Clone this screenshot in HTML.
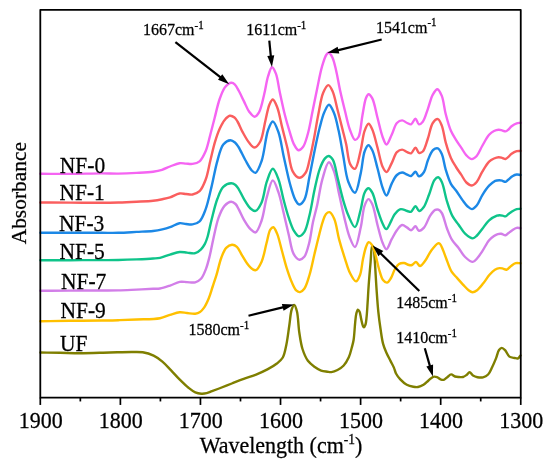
<!DOCTYPE html>
<html><head><meta charset="utf-8"><style>
html,body{margin:0;padding:0;background:#fff;}
svg{display:block;}
text{font-family:"Liberation Serif","Times New Roman",serif;fill:#000;stroke:#000;stroke-width:0.25px;}
.sup{font-size:11px;}
</style></head><body>
<svg width="550" height="464" viewBox="0 0 550 464">
<g fill="none" stroke-width="2.4" stroke-linejoin="round" stroke-linecap="round">
<path d="M40.5,352.5 C47.00,352.60 53.46,352.67 60.00,352.80 C66.62,352.93 72.66,353.31 80.00,353.30 C88.99,353.29 100.80,352.73 110.00,352.50 C117.85,352.31 125.78,351.99 131.80,352.00 C136.06,352.01 139.11,351.70 142.70,352.30 C146.38,352.91 150.27,354.10 153.60,355.70 C156.81,357.24 159.59,359.27 162.40,361.60 C165.44,364.11 168.22,367.41 171.10,370.40 C174.02,373.44 176.85,376.76 179.80,379.70 C182.65,382.54 185.69,385.57 188.50,387.80 C190.83,389.66 193.01,391.42 195.30,392.40 C197.28,393.25 199.34,393.58 201.30,393.70 C203.14,393.81 204.94,393.61 206.70,393.20 C208.50,392.78 210.10,391.92 212.00,391.20 C214.19,390.37 216.40,389.55 219.10,388.50 C222.73,387.10 227.63,385.13 231.80,383.50 C235.83,381.93 239.73,380.36 243.70,378.90 C247.63,377.46 251.59,376.36 255.50,374.80 C259.50,373.20 263.72,371.37 267.40,369.40 C270.81,367.58 274.21,365.65 276.90,363.50 C279.23,361.64 281.28,360.13 282.80,357.50 C284.72,354.17 285.38,349.28 286.40,344.50 C287.62,338.80 288.38,331.56 289.30,325.50 C290.14,319.94 290.47,313.12 291.70,309.50 C292.40,307.46 293.39,304.96 294.20,305.00 C295.13,305.05 296.16,308.51 296.90,311.30 C298.20,316.22 298.29,325.89 299.30,332.50 C300.20,338.36 300.91,344.04 302.50,349.00 C303.90,353.35 305.60,357.67 307.90,360.80 C309.84,363.44 312.46,365.31 314.80,367.00 C316.87,368.49 318.94,369.82 321.10,370.60 C323.11,371.33 325.44,371.44 327.30,371.70 C328.80,371.91 329.92,372.27 331.40,372.10 C333.25,371.88 335.53,371.02 337.50,370.00 C339.64,368.88 341.89,367.44 343.70,365.50 C345.73,363.32 347.45,360.28 348.80,357.30 C350.22,354.17 351.06,350.20 351.90,347.10 C352.60,344.53 353.12,342.92 353.60,340.00 C354.35,335.45 354.67,327.14 355.20,322.30 C355.57,318.92 355.71,316.01 356.30,313.70 C356.72,312.05 357.27,309.70 357.90,309.60 C358.38,309.53 359.04,310.65 359.50,311.60 C360.29,313.25 360.63,316.69 361.20,319.10 C361.73,321.35 362.17,324.20 362.80,325.60 C363.14,326.36 363.51,327.21 363.90,327.20 C364.40,327.18 365.08,325.68 365.50,324.50 C366.15,322.65 366.28,319.82 366.60,316.90 C367.03,312.95 367.27,307.85 367.60,302.90 C367.97,297.30 368.24,291.34 368.70,285.00 C369.22,277.81 369.97,269.02 370.60,262.00 C371.13,256.07 371.18,245.87 372.20,245.60 C372.59,245.50 373.23,246.60 373.60,247.60 C374.36,249.66 374.25,253.58 374.60,258.00 C375.21,265.74 375.92,280.38 376.60,290.00 C377.16,297.91 377.60,304.82 378.30,311.60 C378.93,317.67 379.67,323.26 380.50,328.80 C381.28,334.01 381.94,339.62 383.10,343.90 C383.99,347.22 385.07,349.67 386.30,352.50 C387.56,355.40 389.26,358.44 390.60,361.10 C391.77,363.42 392.98,365.46 393.90,367.60 C394.75,369.59 395.00,371.60 396.00,373.50 C397.08,375.55 398.59,377.57 400.30,379.40 C402.14,381.36 404.50,383.56 406.80,384.80 C408.86,385.92 411.29,386.45 413.30,386.80 C414.97,387.09 416.40,387.27 418.00,387.00 C419.79,386.69 421.79,385.84 423.50,384.80 C425.30,383.71 426.84,381.86 428.50,380.50 C430.08,379.20 431.62,377.28 433.20,376.80 C434.46,376.42 435.81,376.70 437.00,377.10 C438.24,377.51 439.30,378.86 440.50,379.30 C441.58,379.70 442.74,380.06 443.80,379.80 C445.01,379.50 446.10,378.08 447.30,377.20 C448.56,376.28 449.88,374.48 451.20,374.40 C452.45,374.33 453.67,376.07 455.00,376.50 C456.30,376.92 457.75,376.92 459.10,377.00 C460.41,377.08 461.78,377.33 463.00,377.00 C464.24,376.67 465.41,375.79 466.50,375.00 C467.61,374.20 468.55,372.18 469.60,372.20 C470.72,372.22 471.69,374.67 473.00,375.50 C474.32,376.34 475.90,376.89 477.50,377.20 C479.21,377.53 481.26,377.73 483.00,377.30 C484.79,376.86 486.67,375.92 488.10,374.50 C489.78,372.84 490.75,370.02 492.00,367.50 C493.39,364.70 494.81,361.39 496.00,358.40 C497.13,355.56 497.70,351.77 499.00,350.00 C499.82,348.89 500.82,347.92 501.80,347.90 C502.85,347.88 504.03,349.11 505.10,350.20 C506.59,351.71 507.62,355.32 509.40,356.60 C510.89,357.67 513.03,357.72 514.60,358.00 C515.87,358.22 517.13,358.71 518.10,358.30 C519.11,357.88 519.70,356.37 520.50,355.40" stroke="#7f7f00"/>
<path d="M40.5,321.3 C50.33,321.13 59.98,320.93 70.00,320.80 C80.40,320.66 92.92,320.62 101.80,320.50 C108.19,320.41 112.66,320.36 118.30,320.20 C124.24,320.03 130.13,319.80 136.60,319.50 C143.92,319.16 153.89,319.36 160.00,318.20 C164.09,317.42 166.68,315.89 170.00,314.90 C173.24,313.93 176.67,312.55 179.70,312.30 C182.29,312.08 184.50,312.77 187.00,313.00 C189.65,313.24 192.86,314.00 195.20,313.70 C197.04,313.46 198.58,312.92 200.00,312.00 C201.50,311.03 202.65,309.67 203.90,307.90 C205.63,305.44 207.37,301.64 208.80,298.20 C210.33,294.53 211.41,290.39 212.70,286.50 C213.98,282.63 215.20,279.17 216.50,274.90 C218.08,269.70 219.52,262.39 221.40,257.50 C222.85,253.72 224.10,249.94 226.20,247.80 C227.83,246.14 230.13,244.88 232.00,244.80 C233.68,244.72 235.44,245.55 236.90,246.80 C238.88,248.49 240.19,252.32 241.90,255.10 C243.65,257.95 245.36,261.22 247.30,263.70 C249.00,265.87 251.02,268.29 252.70,269.30 C253.78,269.95 254.75,270.58 255.80,270.20 C257.68,269.53 259.98,265.24 261.60,261.70 C263.81,256.88 264.95,248.97 266.50,243.30 C267.83,238.42 268.62,232.30 270.30,229.70 C271.18,228.33 272.33,227.03 273.30,227.20 C274.63,227.43 275.92,230.85 277.10,233.60 C278.94,237.89 280.38,245.20 282.00,251.00 C283.62,256.80 285.08,262.99 286.80,268.40 C288.34,273.24 289.90,278.03 291.70,282.00 C293.19,285.29 294.72,289.13 296.50,290.70 C297.60,291.67 298.82,292.26 300.00,292.10 C301.41,291.90 303.01,290.54 304.30,288.80 C306.43,285.93 307.92,280.16 309.50,275.00 C311.43,268.68 312.91,260.49 314.60,253.50 C316.21,246.84 317.92,239.72 319.40,234.00 C320.57,229.48 321.47,225.47 322.70,221.90 C323.71,218.95 324.51,215.59 326.00,214.00 C327.02,212.91 328.44,211.90 329.60,212.20 C331.26,212.63 332.95,215.96 334.30,219.00 C336.45,223.84 337.30,232.71 339.10,239.40 C340.87,245.98 343.05,252.86 345.00,258.80 C346.68,263.92 347.92,269.01 350.00,273.00 C351.72,276.31 354.24,281.45 356.00,281.40 C357.51,281.35 358.93,277.74 360.00,275.00 C361.57,270.98 361.92,263.94 363.00,259.00 C363.94,254.70 364.82,250.04 366.00,247.00 C366.79,244.98 367.53,242.41 368.60,242.20 C369.57,242.01 371.04,243.66 372.00,245.00 C373.34,246.87 374.02,249.84 375.00,253.00 C376.37,257.39 377.53,264.20 379.00,269.00 C380.24,273.04 381.21,277.74 383.00,280.00 C384.15,281.44 385.74,282.78 387.00,282.60 C388.43,282.40 389.79,279.90 391.00,278.00 C392.54,275.59 393.49,271.48 395.00,269.00 C396.22,267.00 397.38,264.98 399.00,264.00 C400.44,263.12 402.36,262.85 404.00,263.00 C405.69,263.16 407.52,264.72 409.00,265.00 C410.10,265.21 410.99,265.34 412.00,265.00 C413.31,264.56 414.71,261.91 416.00,262.00 C417.38,262.10 418.59,266.00 420.00,266.00 C421.57,266.00 423.38,263.07 425.00,261.00 C427.08,258.34 428.75,254.00 431.00,251.00 C433.11,248.17 436.25,243.92 438.00,243.40 C438.78,243.17 439.37,243.39 440.00,243.90 C441.14,244.82 442.04,247.77 443.00,250.00 C444.11,252.57 444.97,255.37 446.20,258.50 C447.74,262.43 449.48,268.25 451.60,271.70 C453.21,274.32 455.13,275.79 457.00,277.90 C458.99,280.15 461.18,282.67 463.20,284.80 C465.04,286.74 466.85,288.92 468.60,290.20 C469.93,291.17 471.14,292.16 472.50,292.20 C473.96,292.25 475.57,291.30 477.10,290.20 C479.18,288.70 481.29,285.77 483.30,283.30 C485.44,280.66 487.39,277.19 489.50,274.80 C491.27,272.79 493.05,270.82 494.90,269.70 C496.40,268.79 498.06,268.24 499.50,268.10 C500.73,267.98 501.84,268.34 503.00,268.60 C504.18,268.87 505.31,269.92 506.50,269.70 C508.00,269.42 509.53,267.10 511.10,266.00 C512.60,264.95 514.09,263.65 515.70,263.20 C517.20,262.78 518.83,263.20 520.40,263.20" stroke="#ffc000"/>
<path d="M40.5,290.8 C50.33,290.73 59.98,290.65 70.00,290.60 C80.40,290.55 92.92,290.54 101.80,290.50 C108.19,290.47 112.66,290.54 118.30,290.40 C124.24,290.25 130.66,289.87 136.60,289.60 C142.24,289.34 148.78,289.00 153.10,288.80 C155.89,288.67 157.51,288.91 160.00,288.50 C163.05,288.00 166.71,286.70 170.00,285.60 C173.28,284.50 176.65,282.42 179.70,281.90 C182.26,281.46 184.50,282.04 187.00,282.10 C189.65,282.17 192.78,282.94 195.20,282.30 C197.40,281.72 199.35,280.58 201.00,278.80 C203.09,276.55 204.50,272.68 205.90,269.10 C207.50,265.02 208.63,260.20 209.80,255.50 C211.04,250.52 211.81,245.62 213.10,240.00 C214.66,233.23 216.33,223.86 218.60,217.70 C220.32,213.03 222.01,208.61 224.50,205.90 C226.42,203.81 229.19,201.88 231.20,201.80 C232.77,201.74 234.29,202.88 235.50,204.00 C236.89,205.29 237.62,207.28 238.80,209.40 C240.39,212.28 242.04,216.49 244.00,219.80 C245.94,223.08 248.25,227.03 250.50,229.20 C252.12,230.77 253.96,232.82 255.50,232.40 C257.81,231.77 259.88,225.26 261.60,220.50 C263.90,214.14 264.76,204.28 266.80,197.20 C268.57,191.08 270.70,180.51 272.80,180.40 C274.59,180.31 276.76,187.55 278.40,192.10 C280.50,197.93 281.89,205.77 283.60,212.80 C285.36,220.06 287.07,227.91 288.80,235.00 C290.40,241.56 291.16,249.61 293.60,253.90 C295.18,256.68 297.45,259.45 299.40,259.70 C301.02,259.90 302.91,258.49 304.30,256.80 C306.51,254.12 307.74,248.37 309.10,243.30 C310.77,237.06 311.56,228.68 313.00,222.00 C314.29,215.99 315.79,211.28 317.20,205.00 C318.93,197.29 320.18,186.72 322.40,179.10 C324.23,172.81 326.70,162.46 328.90,162.30 C330.58,162.18 332.52,167.53 334.00,171.40 C336.23,177.24 337.47,186.86 339.20,194.60 C340.94,202.36 342.58,210.54 344.40,217.90 C346.06,224.60 347.50,231.75 349.60,237.00 C351.19,240.98 353.36,247.17 355.00,247.00 C357.19,246.77 359.12,234.32 360.70,227.60 C362.36,220.54 362.74,210.65 364.60,205.60 C365.68,202.67 367.06,199.18 368.40,199.10 C369.64,199.03 371.12,201.83 372.30,204.30 C374.43,208.78 375.71,218.35 377.50,225.00 C379.18,231.25 380.80,238.76 382.70,243.10 C383.87,245.77 385.09,249.24 386.40,249.20 C388.05,249.15 389.91,242.43 391.70,239.20 C393.41,236.10 394.99,232.69 396.90,230.20 C398.51,228.11 400.26,225.29 402.10,225.00 C403.72,224.74 405.64,226.69 407.20,227.60 C408.61,228.43 409.80,230.29 411.10,230.20 C412.56,230.10 414.19,226.18 415.50,226.30 C416.78,226.42 417.52,230.44 418.90,230.70 C420.33,230.97 422.43,229.28 424.00,227.60 C426.36,225.07 428.02,218.76 430.20,215.60 C431.84,213.22 433.65,210.70 435.30,209.90 C436.35,209.39 437.42,209.34 438.40,209.70 C439.61,210.15 440.74,211.31 441.80,213.00 C443.78,216.14 445.15,223.74 447.00,228.50 C448.64,232.72 450.11,236.83 452.20,240.20 C454.05,243.18 456.51,245.19 458.60,247.90 C460.81,250.77 462.58,254.61 465.10,257.00 C467.38,259.16 470.66,262.02 472.80,261.90 C474.45,261.81 475.62,259.95 477.00,258.50 C478.76,256.65 480.40,254.08 482.20,251.40 C484.40,248.13 486.78,242.91 489.10,240.20 C490.72,238.30 492.41,237.06 494.00,236.00 C495.29,235.14 496.53,234.46 497.80,234.10 C498.93,233.78 500.02,233.65 501.20,233.80 C502.57,233.97 504.24,235.50 505.50,235.30 C506.65,235.12 507.49,233.76 508.50,233.00 C509.52,232.23 510.41,231.47 511.60,230.70 C513.06,229.75 515.07,228.14 516.70,227.80 C518.01,227.53 519.23,228.07 520.50,228.20" stroke="#d27ee8"/>
<path d="M40.5,260.2 C50.33,260.20 59.98,260.22 70.00,260.20 C80.40,260.18 92.92,260.14 101.80,260.10 C108.19,260.07 112.66,260.11 118.30,260.00 C124.24,259.88 130.66,259.66 136.60,259.40 C142.24,259.15 148.78,258.84 153.10,258.50 C155.90,258.28 157.52,258.32 160.00,257.80 C163.06,257.16 166.68,255.58 170.00,254.60 C173.25,253.65 176.67,252.27 179.70,252.00 C182.28,251.77 184.50,252.41 187.00,252.60 C189.65,252.81 192.80,253.84 195.20,253.20 C197.41,252.61 199.37,250.88 201.00,249.30 C202.59,247.76 203.83,245.89 204.90,243.90 C206.02,241.81 206.63,239.84 207.50,237.00 C208.83,232.62 209.97,225.96 211.50,220.00 C213.22,213.31 215.12,204.76 217.40,198.80 C219.17,194.17 220.62,189.49 223.30,186.90 C225.47,184.80 228.95,183.36 231.20,183.30 C232.84,183.26 234.27,184.07 235.50,185.00 C236.83,186.01 237.65,187.52 238.80,189.30 C240.44,191.85 242.07,195.92 244.00,199.10 C245.96,202.33 248.20,206.54 250.50,208.50 C252.10,209.87 253.91,211.31 255.50,210.90 C257.68,210.34 259.90,206.06 261.60,202.40 C264.02,197.18 264.67,187.70 266.80,181.70 C268.54,176.80 270.77,168.86 272.80,168.80 C274.64,168.74 276.78,174.95 278.40,179.10 C280.58,184.70 281.81,193.15 283.60,199.80 C285.28,206.05 286.92,212.41 288.80,217.90 C290.42,222.64 291.97,227.65 294.00,230.90 C295.45,233.22 297.06,236.03 298.80,236.20 C300.50,236.37 302.76,234.29 304.30,232.10 C306.77,228.60 307.92,221.54 309.50,215.30 C311.43,207.66 312.78,197.61 314.60,189.50 C316.24,182.20 317.71,174.43 319.80,168.80 C321.34,164.64 323.12,160.53 325.00,158.40 C326.15,157.10 327.39,155.92 328.60,156.00 C329.98,156.09 331.57,157.71 332.80,159.70 C335.12,163.46 336.21,172.52 337.90,179.10 C339.64,185.88 341.23,193.43 343.10,199.80 C344.73,205.37 346.19,210.58 348.30,215.30 C350.22,219.60 353.05,227.30 355.00,227.10 C357.28,226.87 359.08,215.33 360.70,209.50 C362.26,203.87 362.74,196.36 364.60,192.70 C365.68,190.58 367.12,188.31 368.40,188.30 C369.69,188.29 371.11,190.58 372.30,192.70 C374.36,196.36 375.70,204.16 377.50,209.50 C379.17,214.45 380.91,220.17 382.70,223.70 C383.87,226.01 385.01,229.14 386.30,229.10 C387.96,229.05 390.21,222.48 391.70,219.80 C392.81,217.80 393.24,216.16 394.50,214.50 C395.92,212.63 398.24,209.92 400.00,209.30 C401.20,208.88 402.33,209.34 403.50,209.60 C404.76,209.88 406.04,210.63 407.30,211.00 C408.50,211.35 409.74,212.20 410.90,211.80 C412.52,211.24 414.08,206.17 415.50,206.20 C416.79,206.23 417.74,210.84 419.10,211.00 C420.44,211.16 422.22,209.13 423.60,207.30 C425.73,204.47 427.33,198.92 429.10,194.50 C430.97,189.84 432.40,182.77 434.50,180.00 C435.64,178.49 437.05,177.13 438.20,177.30 C439.51,177.49 440.69,179.75 441.80,182.00 C443.84,186.15 445.13,195.48 447.00,201.40 C448.63,206.54 450.06,211.51 452.20,215.60 C454.03,219.11 456.45,221.68 458.60,224.70 C460.75,227.72 462.58,231.36 465.10,233.70 C467.38,235.81 470.64,238.46 472.80,238.40 C474.43,238.35 475.62,236.79 477.00,235.50 C478.76,233.86 480.35,231.33 482.20,229.00 C484.34,226.31 486.50,222.57 489.10,220.30 C491.45,218.25 494.95,216.44 496.90,215.70 C497.96,215.30 498.60,215.23 499.50,215.20 C500.46,215.17 501.51,215.40 502.50,215.60 C503.51,215.80 504.55,216.60 505.50,216.40 C506.56,216.18 507.48,214.78 508.50,214.00 C509.52,213.22 510.40,212.44 511.60,211.70 C513.06,210.80 515.08,209.56 516.70,209.10 C518.02,208.73 519.23,208.90 520.50,208.80" stroke="#0fc48a"/>
<path d="M40.5,232.8 C50.33,232.80 59.98,232.80 70.00,232.80 C80.40,232.80 92.92,232.80 101.80,232.80 C108.19,232.80 112.66,232.94 118.30,232.80 C124.24,232.65 130.66,232.21 136.60,231.90 C142.24,231.61 148.41,231.53 153.10,231.00 C156.62,230.60 159.39,230.07 162.30,229.40 C165.00,228.78 167.33,228.14 170.00,227.20 C173.03,226.13 176.58,223.61 179.50,223.20 C181.83,222.88 183.83,223.80 186.00,224.00 C188.16,224.20 190.33,224.78 192.50,224.40 C194.86,223.98 197.60,223.19 199.60,221.30 C202.23,218.82 203.82,214.10 205.60,209.40 C207.95,203.19 209.60,194.70 211.50,186.90 C213.54,178.54 215.17,168.42 217.40,160.80 C219.20,154.67 220.46,147.94 223.30,144.50 C225.28,142.10 228.36,140.27 230.50,140.20 C232.16,140.15 233.69,141.42 235.00,142.50 C236.39,143.65 237.24,145.04 238.50,147.00 C240.52,150.15 242.98,155.94 245.30,160.00 C247.42,163.73 249.69,168.39 251.80,170.50 C253.05,171.76 254.29,173.13 255.50,172.80 C257.61,172.22 259.81,166.02 261.60,161.00 C264.36,153.25 265.51,136.98 268.10,130.00 C269.54,126.14 271.18,121.49 272.80,121.50 C274.60,121.51 276.80,127.65 278.40,132.00 C280.69,138.23 281.75,147.60 283.60,155.90 C285.62,164.96 287.85,176.30 290.10,184.30 C291.79,190.29 293.35,196.24 295.30,199.80 C296.49,201.96 297.67,204.39 299.10,204.50 C300.64,204.62 302.85,202.30 304.30,199.80 C306.98,195.20 307.82,184.48 309.50,176.50 C311.26,168.13 312.86,159.02 314.60,150.70 C316.23,142.88 317.81,134.88 319.60,128.00 C321.11,122.17 322.48,116.18 324.40,112.00 C325.77,109.01 327.45,104.79 329.00,104.80 C330.62,104.82 332.48,109.48 333.90,112.80 C335.89,117.45 337.16,124.17 338.60,130.60 C340.27,138.06 341.52,146.69 343.10,155.00 C344.75,163.70 345.67,174.92 348.30,181.70 C350.11,186.37 353.08,192.95 355.00,192.70 C357.40,192.39 359.12,180.08 360.70,173.40 C362.36,166.37 362.73,156.48 364.60,151.50 C365.68,148.63 367.06,145.28 368.40,145.20 C369.64,145.13 371.11,147.86 372.30,150.20 C374.35,154.23 375.80,162.13 377.50,168.30 C379.27,174.72 380.82,183.06 382.70,188.00 C383.91,191.17 385.18,195.54 386.50,195.50 C388.15,195.45 389.84,187.19 391.70,183.60 C393.34,180.44 394.85,176.86 396.90,175.00 C398.45,173.59 400.37,172.54 402.10,172.50 C403.80,172.47 405.60,174.09 407.20,174.70 C408.58,175.22 409.84,176.28 411.10,176.00 C412.63,175.66 414.18,171.69 415.50,171.80 C416.77,171.90 417.56,176.15 418.90,176.30 C420.36,176.46 422.61,174.05 424.00,172.00 C425.92,169.17 426.42,163.76 428.00,160.00 C429.48,156.46 430.99,151.81 433.10,150.00 C434.52,148.78 436.52,147.94 437.90,148.40 C439.50,148.93 440.68,151.53 441.80,154.00 C443.52,157.79 444.15,164.56 445.70,169.60 C447.20,174.49 448.85,180.06 450.90,183.80 C452.43,186.59 454.23,188.04 456.00,190.50 C458.07,193.39 460.39,197.26 462.50,200.10 C464.28,202.49 465.92,204.94 467.70,206.50 C469.07,207.71 470.48,209.16 471.90,209.10 C473.47,209.03 475.22,207.22 476.70,205.50 C478.76,203.11 480.15,198.58 482.20,195.30 C484.27,191.98 486.68,188.22 489.10,185.70 C491.06,183.66 493.24,181.76 495.20,180.90 C496.67,180.25 498.20,180.18 499.50,180.20 C500.59,180.22 501.51,180.52 502.50,180.80 C503.51,181.08 504.54,182.06 505.50,181.90 C506.55,181.73 507.44,180.37 508.50,179.50 C509.72,178.50 510.99,177.04 512.40,176.20 C513.74,175.40 515.29,174.67 516.70,174.50 C517.98,174.34 519.23,174.83 520.50,175.00" stroke="#1c88e6"/>
<path d="M40.5,202.5 C50.33,202.53 59.98,202.55 70.00,202.60 C80.40,202.65 92.92,202.85 101.80,202.80 C108.19,202.76 112.66,202.67 118.30,202.50 C124.24,202.32 130.66,202.01 136.60,201.70 C142.24,201.41 148.41,201.22 153.10,200.70 C156.62,200.31 159.38,199.78 162.30,199.20 C164.99,198.67 167.33,198.25 170.00,197.40 C173.04,196.43 176.58,193.96 179.50,193.50 C181.82,193.13 183.83,193.83 186.00,194.00 C188.17,194.17 190.34,194.89 192.50,194.50 C194.87,194.07 197.59,193.12 199.60,191.20 C202.18,188.74 203.93,184.20 205.60,179.80 C207.66,174.38 208.73,167.12 210.30,160.80 C211.86,154.49 213.27,147.62 215.00,141.90 C216.48,137.01 218.03,132.37 219.80,128.50 C221.25,125.33 222.66,122.40 224.50,120.20 C226.07,118.33 227.99,116.12 229.80,115.80 C231.34,115.53 233.22,116.55 234.50,117.50 C235.78,118.45 236.45,119.78 237.50,121.50 C239.14,124.19 240.85,128.86 242.80,132.40 C244.75,135.96 246.96,140.13 249.20,142.80 C250.91,144.83 252.73,147.57 254.50,147.50 C256.43,147.43 258.70,144.41 260.30,141.50 C262.90,136.79 263.88,126.73 265.50,120.20 C266.88,114.62 267.78,108.40 269.40,104.70 C270.41,102.40 271.62,99.46 272.80,99.50 C274.21,99.54 275.88,103.89 277.20,107.20 C279.25,112.32 280.58,121.00 282.30,127.90 C284.02,134.80 285.80,141.52 287.50,148.60 C289.27,156.01 289.92,166.37 292.70,171.40 C294.43,174.53 296.90,177.67 299.10,177.80 C301.20,177.93 303.94,175.12 305.60,172.70 C307.71,169.63 308.28,164.74 309.50,160.00 C311.02,154.14 312.31,147.19 313.70,140.10 C315.28,132.00 316.73,122.24 318.40,114.00 C319.92,106.52 320.95,97.86 323.20,92.70 C324.66,89.35 326.75,85.09 328.40,85.10 C329.91,85.11 331.43,88.70 332.70,91.50 C334.66,95.83 335.80,103.13 337.40,109.30 C339.13,115.96 341.13,123.82 342.70,130.10 C344.00,135.28 345.04,139.14 346.20,144.30 C347.57,150.41 348.02,160.32 350.30,164.40 C351.58,166.69 353.61,169.17 355.00,168.80 C357.42,168.15 359.10,156.51 360.70,150.20 C362.31,143.84 362.82,135.55 364.60,130.80 C365.74,127.77 367.26,123.84 368.60,123.80 C369.83,123.77 371.14,126.95 372.30,129.50 C374.23,133.74 375.79,141.45 377.50,147.60 C379.26,153.95 380.64,162.74 382.70,167.00 C383.86,169.40 385.19,172.18 386.50,172.10 C388.17,172.00 390.03,166.28 391.70,163.10 C393.50,159.67 394.72,154.43 396.90,152.20 C398.42,150.66 400.38,149.59 402.10,149.60 C403.81,149.61 405.58,151.57 407.20,152.20 C408.56,152.73 409.89,153.70 411.10,153.30 C412.72,152.76 414.16,147.55 415.50,147.60 C416.74,147.65 417.51,152.32 418.90,152.80 C420.03,153.19 421.63,152.61 422.80,151.50 C424.95,149.46 426.29,143.05 427.90,138.50 C429.64,133.59 430.51,126.26 432.80,123.00 C434.24,120.95 436.44,118.82 437.90,119.10 C439.48,119.40 440.67,122.82 441.80,125.60 C443.50,129.80 444.16,136.95 445.70,142.40 C447.20,147.71 448.95,153.49 450.90,157.90 C452.46,161.42 454.23,164.13 456.00,167.00 C457.67,169.71 459.47,172.12 461.20,174.70 C462.94,177.29 464.39,180.66 466.40,182.50 C468.05,184.01 470.16,185.61 471.90,185.50 C473.59,185.39 475.22,183.69 476.70,182.00 C478.76,179.65 480.18,175.24 482.20,171.90 C484.30,168.43 486.75,163.89 489.10,161.60 C490.71,160.03 492.34,159.24 494.00,158.50 C495.51,157.83 497.17,157.27 498.60,157.20 C499.81,157.14 500.87,157.51 502.00,157.80 C503.17,158.10 504.42,159.16 505.50,159.00 C506.59,158.83 507.52,157.63 508.50,156.80 C509.56,155.91 510.36,154.68 511.60,153.80 C513.03,152.78 515.08,151.66 516.70,151.20 C518.02,150.83 519.23,151.00 520.50,150.90" stroke="#fa5e5e"/>
<path d="M40.5,173.8 C50.33,173.83 59.98,173.96 70.00,173.90 C80.40,173.84 92.92,173.42 101.80,173.40 C108.19,173.39 112.66,173.67 118.30,173.60 C124.24,173.52 130.66,173.23 136.60,172.90 C142.25,172.59 148.46,172.36 153.10,171.70 C156.54,171.21 159.15,170.68 162.00,169.80 C164.78,168.94 167.20,167.56 170.00,166.50 C173.02,165.36 176.60,163.60 179.50,163.20 C181.84,162.88 183.83,163.48 186.00,163.60 C188.17,163.72 190.32,164.24 192.50,163.90 C194.85,163.54 197.57,162.98 199.60,161.30 C202.12,159.22 203.92,155.18 205.60,151.30 C207.64,146.58 208.81,140.21 210.30,134.70 C211.77,129.28 213.03,124.11 214.50,118.50 C216.09,112.42 217.58,105.03 219.50,99.50 C221.06,95.00 222.86,90.33 224.70,87.60 C225.86,85.88 227.04,84.70 228.30,83.90 C229.32,83.25 230.44,82.74 231.50,82.80 C232.58,82.86 233.69,83.40 234.70,84.30 C236.22,85.64 237.50,88.48 238.90,91.00 C240.60,94.05 242.28,97.95 244.00,101.40 C245.72,104.85 247.18,109.02 249.20,111.70 C250.82,113.84 252.90,116.72 254.60,116.70 C256.15,116.68 257.71,114.57 259.00,112.40 C261.26,108.61 262.68,100.36 264.20,94.30 C265.71,88.29 266.52,81.13 268.10,76.20 C269.25,72.61 270.60,67.30 272.00,67.20 C273.22,67.12 274.79,70.80 275.90,73.60 C277.64,77.99 278.31,85.29 279.70,91.70 C281.28,98.98 283.05,107.75 284.90,115.00 C286.54,121.44 288.49,127.90 290.10,133.10 C291.34,137.09 292.04,140.61 293.60,143.60 C294.94,146.18 296.76,149.92 298.50,150.20 C299.93,150.43 301.69,148.71 303.00,147.00 C305.08,144.29 306.37,138.98 307.80,134.00 C309.64,127.60 310.94,119.17 312.50,111.60 C314.11,103.81 315.67,95.58 317.30,87.90 C318.84,80.60 320.22,72.65 322.00,66.60 C323.37,61.95 324.91,56.61 326.50,54.50 C327.25,53.51 328.01,52.69 328.80,52.80 C329.94,52.96 331.36,55.43 332.40,57.50 C333.95,60.57 334.86,65.32 336.00,70.00 C337.43,75.86 338.53,83.27 340.00,90.00 C341.52,96.93 343.29,104.18 345.00,111.00 C346.63,117.50 348.01,124.79 350.00,130.00 C351.49,133.90 353.23,139.42 355.00,139.80 C356.13,140.04 357.51,138.66 358.50,137.00 C360.71,133.29 361.17,121.85 362.50,115.00 C363.67,108.96 364.49,101.55 366.00,98.00 C366.78,96.17 367.61,94.26 368.60,94.20 C369.69,94.13 371.18,96.30 372.30,98.40 C374.43,102.37 375.77,111.33 377.50,117.80 C379.23,124.27 380.82,132.36 382.70,137.20 C383.91,140.30 385.13,144.49 386.50,144.50 C388.09,144.51 390.02,138.14 391.70,134.70 C393.50,131.00 394.67,125.34 396.90,123.00 C398.41,121.42 400.38,120.39 402.10,120.40 C403.81,120.41 405.59,122.33 407.20,123.00 C408.56,123.57 409.88,124.67 411.10,124.30 C412.71,123.81 414.18,118.52 415.50,118.60 C416.77,118.68 417.54,123.99 418.90,124.30 C420.04,124.56 421.61,123.17 422.80,121.70 C424.84,119.18 426.26,113.22 427.90,108.80 C429.60,104.20 430.81,98.08 432.80,94.60 C434.17,92.21 435.94,89.11 437.40,89.20 C438.95,89.30 440.58,92.98 441.80,95.90 C443.66,100.34 444.16,108.11 445.70,114.00 C447.20,119.74 448.89,126.16 450.90,130.80 C452.44,134.36 454.24,136.94 456.00,139.80 C457.68,142.52 459.46,145.01 461.20,147.60 C462.93,150.18 464.45,153.31 466.40,155.30 C468.05,156.98 470.03,159.06 471.80,159.10 C473.46,159.14 475.20,157.59 476.70,156.00 C478.80,153.77 480.22,149.40 482.20,146.00 C484.33,142.35 486.75,137.41 489.10,134.80 C490.71,133.01 492.31,131.85 494.00,131.00 C495.49,130.25 497.17,129.77 498.60,129.70 C499.81,129.64 500.87,130.02 502.00,130.30 C503.17,130.59 504.41,131.54 505.50,131.40 C506.57,131.26 507.54,130.29 508.50,129.50 C509.58,128.60 510.35,127.18 511.60,126.20 C513.02,125.08 515.07,123.85 516.70,123.30 C518.01,122.86 519.23,122.97 520.50,122.80" stroke="#f564f2"/>
</g>
<g stroke="#000" stroke-width="1.7">
<rect x="40.3" y="9.85" width="480.45" height="387.79999999999995" fill="none" stroke-width="1.8" stroke-linejoin="round"/>
<line x1="520.75" y1="397.65" x2="520.75" y2="404.95"/>
<line x1="480.71" y1="397.65" x2="480.71" y2="401.45"/>
<line x1="440.68" y1="397.65" x2="440.68" y2="404.95"/>
<line x1="400.64" y1="397.65" x2="400.64" y2="401.45"/>
<line x1="360.60" y1="397.65" x2="360.60" y2="404.95"/>
<line x1="320.56" y1="397.65" x2="320.56" y2="401.45"/>
<line x1="280.52" y1="397.65" x2="280.52" y2="404.95"/>
<line x1="240.49" y1="397.65" x2="240.49" y2="401.45"/>
<line x1="200.45" y1="397.65" x2="200.45" y2="404.95"/>
<line x1="160.41" y1="397.65" x2="160.41" y2="401.45"/>
<line x1="120.38" y1="397.65" x2="120.38" y2="404.95"/>
<line x1="80.34" y1="397.65" x2="80.34" y2="401.45"/>
<line x1="40.30" y1="397.65" x2="40.30" y2="404.95"/>
</g>
<g font-size="22">
<text transform="translate(521.15,427.6) scale(1,1.07)" text-anchor="middle">1300</text>
<text transform="translate(441.07,427.6) scale(1,1.07)" text-anchor="middle">1400</text>
<text transform="translate(361.00,427.6) scale(1,1.07)" text-anchor="middle">1500</text>
<text transform="translate(280.92,427.6) scale(1,1.07)" text-anchor="middle">1600</text>
<text transform="translate(200.85,427.6) scale(1,1.07)" text-anchor="middle">1700</text>
<text transform="translate(120.78,427.6) scale(1,1.07)" text-anchor="middle">1800</text>
<text transform="translate(40.70,427.6) scale(1,1.07)" text-anchor="middle">1900</text>
</g>
<g font-size="21.5">
<text transform="translate(59.8,172.9) scale(1,1.07)">NF-0</text>
<text transform="translate(59.5,199.9) scale(1,1.07)">NF-1</text>
<text transform="translate(59.0,230.9) scale(1,1.07)">NF-3</text>
<text transform="translate(59.5,258.9) scale(1,1.07)">NF-5</text>
<text transform="translate(61.0,288.9) scale(1,1.07)">NF-7</text>
<text transform="translate(60.5,317.9) scale(1,1.07)">NF-9</text>
<text transform="translate(60.0,350.9) scale(1,1.07)">UF</text>
</g>
<g font-size="16">
<text transform="translate(143.0,35.2) scale(1,1.07)">1667cm<tspan class="sup" dy="-5.8">-1</tspan></text>
<text transform="translate(246.3,34.7) scale(1,1.07)">1611cm<tspan class="sup" dy="-5.8">-1</tspan></text>
<text transform="translate(375.9,32.5) scale(1,1.07)">1541cm<tspan class="sup" dy="-5.8">-1</tspan></text>
<text transform="translate(188.5,335.1) scale(1,1.07)">1580cm<tspan class="sup" dy="-5.8">-1</tspan></text>
<text transform="translate(396.3,308.0) scale(1,1.07)">1485cm<tspan class="sup" dy="-5.8">-1</tspan></text>
<text transform="translate(396.3,343.3) scale(1,1.07)">1410cm<tspan class="sup" dy="-5.8">-1</tspan></text>
</g>
<line x1="175.40" y1="42.10" x2="220.93" y2="77.73" stroke="#000" stroke-width="2.2"/><polygon points="229.20,84.20 217.99,79.87 222.30,74.36" fill="#000"/>
<line x1="269.30" y1="40.60" x2="270.87" y2="56.55" stroke="#000" stroke-width="2.2"/><polygon points="271.90,67.00 267.29,55.90 274.26,55.21" fill="#000"/>
<line x1="381.70" y1="39.50" x2="337.50" y2="50.31" stroke="#000" stroke-width="2.2"/><polygon points="327.30,52.80 337.64,46.67 339.30,53.47" fill="#000"/>
<line x1="248.50" y1="315.80" x2="283.71" y2="307.11" stroke="#000" stroke-width="2.2"/><polygon points="293.90,304.60 283.57,310.75 281.90,303.96" fill="#000"/>
<line x1="419.30" y1="291.00" x2="380.13" y2="252.92" stroke="#000" stroke-width="2.2"/><polygon points="372.60,245.60 383.29,251.11 378.41,256.13" fill="#000"/>
<line x1="424.80" y1="348.20" x2="430.01" y2="366.41" stroke="#000" stroke-width="2.2"/><polygon points="432.90,376.50 426.37,366.41 433.10,364.48" fill="#000"/>
<text transform="translate(281,452.8) scale(1,1.07)" font-size="22" text-anchor="middle">Wavelength (cm<tspan font-size="13.5" dy="-8.2">-1</tspan><tspan dy="8.2">)</tspan></text>
<text transform="translate(26.3,193.2) rotate(-90)" font-size="21.4" text-anchor="middle">Absorbance</text>
</svg>
</body></html>
